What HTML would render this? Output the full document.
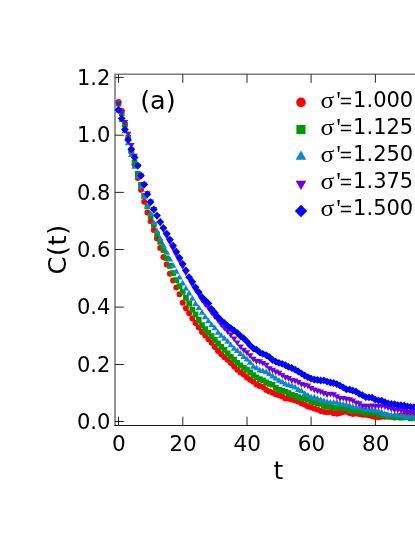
<!DOCTYPE html>
<html lang="en"><head><meta charset="utf-8"><title>C(t) plot</title>
<style>html,body{margin:0;padding:0;background:#fff}svg{display:block}</style></head>
<body>
<svg width="415" height="537" viewBox="0 0 415 537">
<rect width="415" height="537" fill="#fff"/>
<g stroke="#000" fill="none">
<path stroke="#7c7c7c" stroke-width="1.6" d="M115.0 425.3V74.2H415"/>
<path stroke="#1a1a1a" stroke-width="1" d="M114.3 425.5H415"/>
<path stroke="#1a1a1a" stroke-width="0.95" d="M118.5 425.5v-8.8M118.5 74.2v8.6M182.8 425.5v-8.8M182.8 74.2v8.6M247 425.5v-8.8M247 74.2v8.6M311.1 425.5v-8.8M311.1 74.2v8.6M375.4 425.5v-8.8M375.4 74.2v8.6M115.0 421.5h8.8M115.0 364.5h8.8M115.0 307.1h8.8M115.0 249.5h8.8M115.0 192.4h8.8M115.0 135.2h8.8M115.0 77.4h8.8"/>
</g>
<g>
<path fill="#ff0000" d="M115.5 102.1a3 3 0 1 0 6 0a3 3 0 1 0 -6 0zM118.7 110.8a3 3 0 1 0 6 0a3 3 0 1 0 -6 0zM121.9 124.3a3 3 0 1 0 6 0a3 3 0 1 0 -6 0zM125.1 138.4a3 3 0 1 0 6 0a3 3 0 1 0 -6 0zM128.3 151.9a3 3 0 1 0 6 0a3 3 0 1 0 -6 0zM131.6 164.8a3 3 0 1 0 6 0a3 3 0 1 0 -6 0zM134.8 177.9a3 3 0 1 0 6 0a3 3 0 1 0 -6 0zM138 189.7a3 3 0 1 0 6 0a3 3 0 1 0 -6 0zM141.2 201.7a3 3 0 1 0 6 0a3 3 0 1 0 -6 0zM144.4 212.4a3 3 0 1 0 6 0a3 3 0 1 0 -6 0zM147.6 221.2a3 3 0 1 0 6 0a3 3 0 1 0 -6 0zM150.8 230.1a3 3 0 1 0 6 0a3 3 0 1 0 -6 0zM154 238.5a3 3 0 1 0 6 0a3 3 0 1 0 -6 0zM157.2 248a3 3 0 1 0 6 0a3 3 0 1 0 -6 0zM160.4 257a3 3 0 1 0 6 0a3 3 0 1 0 -6 0zM163.7 264.4a3 3 0 1 0 6 0a3 3 0 1 0 -6 0zM166.9 273.7a3 3 0 1 0 6 0a3 3 0 1 0 -6 0zM170.1 280.6a3 3 0 1 0 6 0a3 3 0 1 0 -6 0zM173.3 287.5a3 3 0 1 0 6 0a3 3 0 1 0 -6 0zM176.5 294.2a3 3 0 1 0 6 0a3 3 0 1 0 -6 0zM179.7 302.7a3 3 0 1 0 6 0a3 3 0 1 0 -6 0zM182.9 308.2a3 3 0 1 0 6 0a3 3 0 1 0 -6 0zM186.1 313.3a3 3 0 1 0 6 0a3 3 0 1 0 -6 0zM189.3 318.5a3 3 0 1 0 6 0a3 3 0 1 0 -6 0zM192.5 323.1a3 3 0 1 0 6 0a3 3 0 1 0 -6 0zM195.8 327.5a3 3 0 1 0 6 0a3 3 0 1 0 -6 0zM199 332.1a3 3 0 1 0 6 0a3 3 0 1 0 -6 0zM202.2 335.4a3 3 0 1 0 6 0a3 3 0 1 0 -6 0zM205.4 339.3a3 3 0 1 0 6 0a3 3 0 1 0 -6 0zM208.6 342.8a3 3 0 1 0 6 0a3 3 0 1 0 -6 0zM211.8 347.1a3 3 0 1 0 6 0a3 3 0 1 0 -6 0zM215 351a3 3 0 1 0 6 0a3 3 0 1 0 -6 0zM218.2 354.3a3 3 0 1 0 6 0a3 3 0 1 0 -6 0zM221.4 357.3a3 3 0 1 0 6 0a3 3 0 1 0 -6 0zM224.6 359.8a3 3 0 1 0 6 0a3 3 0 1 0 -6 0zM227.9 363a3 3 0 1 0 6 0a3 3 0 1 0 -6 0zM231.1 366.4a3 3 0 1 0 6 0a3 3 0 1 0 -6 0zM234.3 369.8a3 3 0 1 0 6 0a3 3 0 1 0 -6 0zM237.5 372.6a3 3 0 1 0 6 0a3 3 0 1 0 -6 0zM240.7 374.5a3 3 0 1 0 6 0a3 3 0 1 0 -6 0zM243.9 377.5a3 3 0 1 0 6 0a3 3 0 1 0 -6 0zM247.1 379.7a3 3 0 1 0 6 0a3 3 0 1 0 -6 0zM250.3 381.7a3 3 0 1 0 6 0a3 3 0 1 0 -6 0zM253.5 384.5a3 3 0 1 0 6 0a3 3 0 1 0 -6 0zM256.7 386.1a3 3 0 1 0 6 0a3 3 0 1 0 -6 0zM260 387.1a3 3 0 1 0 6 0a3 3 0 1 0 -6 0zM263.2 389.9a3 3 0 1 0 6 0a3 3 0 1 0 -6 0zM266.4 391.4a3 3 0 1 0 6 0a3 3 0 1 0 -6 0zM269.6 392.7a3 3 0 1 0 6 0a3 3 0 1 0 -6 0zM272.8 394.3a3 3 0 1 0 6 0a3 3 0 1 0 -6 0zM276 395.2a3 3 0 1 0 6 0a3 3 0 1 0 -6 0zM279.2 396.5a3 3 0 1 0 6 0a3 3 0 1 0 -6 0zM282.4 398.4a3 3 0 1 0 6 0a3 3 0 1 0 -6 0zM285.6 398.8a3 3 0 1 0 6 0a3 3 0 1 0 -6 0zM288.8 399.6a3 3 0 1 0 6 0a3 3 0 1 0 -6 0zM292.1 400.6a3 3 0 1 0 6 0a3 3 0 1 0 -6 0zM295.3 401.6a3 3 0 1 0 6 0a3 3 0 1 0 -6 0zM298.5 403.2a3 3 0 1 0 6 0a3 3 0 1 0 -6 0zM301.7 404.7a3 3 0 1 0 6 0a3 3 0 1 0 -6 0zM304.9 406.6a3 3 0 1 0 6 0a3 3 0 1 0 -6 0zM308.1 407.2a3 3 0 1 0 6 0a3 3 0 1 0 -6 0zM311.3 408.5a3 3 0 1 0 6 0a3 3 0 1 0 -6 0zM314.5 409.6a3 3 0 1 0 6 0a3 3 0 1 0 -6 0zM317.7 410.9a3 3 0 1 0 6 0a3 3 0 1 0 -6 0zM320.9 411.8a3 3 0 1 0 6 0a3 3 0 1 0 -6 0zM324.2 412.2a3 3 0 1 0 6 0a3 3 0 1 0 -6 0zM327.4 411.7a3 3 0 1 0 6 0a3 3 0 1 0 -6 0zM330.6 413.2a3 3 0 1 0 6 0a3 3 0 1 0 -6 0zM333.8 413.7a3 3 0 1 0 6 0a3 3 0 1 0 -6 0zM337 412.9a3 3 0 1 0 6 0a3 3 0 1 0 -6 0zM340.2 411.9a3 3 0 1 0 6 0a3 3 0 1 0 -6 0zM343.4 411.8a3 3 0 1 0 6 0a3 3 0 1 0 -6 0zM346.6 413a3 3 0 1 0 6 0a3 3 0 1 0 -6 0zM349.8 414.1a3 3 0 1 0 6 0a3 3 0 1 0 -6 0zM353 413.5a3 3 0 1 0 6 0a3 3 0 1 0 -6 0zM356.3 414a3 3 0 1 0 6 0a3 3 0 1 0 -6 0zM359.5 414.7a3 3 0 1 0 6 0a3 3 0 1 0 -6 0zM362.7 414.7a3 3 0 1 0 6 0a3 3 0 1 0 -6 0zM365.9 415.2a3 3 0 1 0 6 0a3 3 0 1 0 -6 0zM369.1 416.3a3 3 0 1 0 6 0a3 3 0 1 0 -6 0zM372.3 417a3 3 0 1 0 6 0a3 3 0 1 0 -6 0zM375.5 417.3a3 3 0 1 0 6 0a3 3 0 1 0 -6 0zM378.7 416.7a3 3 0 1 0 6 0a3 3 0 1 0 -6 0zM381.9 416.8a3 3 0 1 0 6 0a3 3 0 1 0 -6 0zM385.1 416.8a3 3 0 1 0 6 0a3 3 0 1 0 -6 0zM388.4 416.7a3 3 0 1 0 6 0a3 3 0 1 0 -6 0zM391.6 417.4a3 3 0 1 0 6 0a3 3 0 1 0 -6 0zM394.8 416.2a3 3 0 1 0 6 0a3 3 0 1 0 -6 0zM398 415.6a3 3 0 1 0 6 0a3 3 0 1 0 -6 0zM401.2 415.1a3 3 0 1 0 6 0a3 3 0 1 0 -6 0zM404.4 415.8a3 3 0 1 0 6 0a3 3 0 1 0 -6 0zM407.6 415.2a3 3 0 1 0 6 0a3 3 0 1 0 -6 0zM410.8 414.5a3 3 0 1 0 6 0a3 3 0 1 0 -6 0zM414 415.4a3 3 0 1 0 6 0a3 3 0 1 0 -6 0z"/>
<path fill="#009900" d="M115.7 100.8h5.7v5.7h-5.7zM118.9 110.3h5.7v5.7h-5.7zM122.1 121.8h5.7v5.7h-5.7zM125.3 135h5.7v5.7h-5.7zM128.5 147.6h5.7v5.7h-5.7zM131.7 159.6h5.7v5.7h-5.7zM134.9 171.1h5.7v5.7h-5.7zM138.1 182h5.7v5.7h-5.7zM141.3 192.9h5.7v5.7h-5.7zM144.6 203.5h5.7v5.7h-5.7zM147.8 213.3h5.7v5.7h-5.7zM151 221.9h5.7v5.7h-5.7zM154.2 231.6h5.7v5.7h-5.7zM157.4 239.1h5.7v5.7h-5.7zM160.6 247.4h5.7v5.7h-5.7zM163.8 255.4h5.7v5.7h-5.7zM167 263h5.7v5.7h-5.7zM170.2 270.3h5.7v5.7h-5.7zM173.4 277.2h5.7v5.7h-5.7zM176.7 283.2h5.7v5.7h-5.7zM179.9 289h5.7v5.7h-5.7zM183.1 295.1h5.7v5.7h-5.7zM186.3 300.8h5.7v5.7h-5.7zM189.5 306.8h5.7v5.7h-5.7zM192.7 311.6h5.7v5.7h-5.7zM195.9 317h5.7v5.7h-5.7zM199.1 322.2h5.7v5.7h-5.7zM202.3 326.3h5.7v5.7h-5.7zM205.5 329.7h5.7v5.7h-5.7zM208.8 333.2h5.7v5.7h-5.7zM212 337h5.7v5.7h-5.7zM215.2 340.6h5.7v5.7h-5.7zM218.4 344h5.7v5.7h-5.7zM221.6 347h5.7v5.7h-5.7zM224.8 350.6h5.7v5.7h-5.7zM228 353.9h5.7v5.7h-5.7zM231.2 356.8h5.7v5.7h-5.7zM234.4 360h5.7v5.7h-5.7zM237.6 362.5h5.7v5.7h-5.7zM240.9 365h5.7v5.7h-5.7zM244.1 366.7h5.7v5.7h-5.7zM247.3 369.5h5.7v5.7h-5.7zM250.5 372.3h5.7v5.7h-5.7zM253.7 374.4h5.7v5.7h-5.7zM256.9 376.2h5.7v5.7h-5.7zM260.1 377.5h5.7v5.7h-5.7zM263.3 379.6h5.7v5.7h-5.7zM266.5 381.1h5.7v5.7h-5.7zM269.7 381.9h5.7v5.7h-5.7zM273 385.1h5.7v5.7h-5.7zM276.2 386.9h5.7v5.7h-5.7zM279.4 387.7h5.7v5.7h-5.7zM282.6 388.9h5.7v5.7h-5.7zM285.8 390.3h5.7v5.7h-5.7zM289 392h5.7v5.7h-5.7zM292.2 393h5.7v5.7h-5.7zM295.4 394.3h5.7v5.7h-5.7zM298.6 395.8h5.7v5.7h-5.7zM301.8 395.6h5.7v5.7h-5.7zM305.1 396.9h5.7v5.7h-5.7zM308.3 398.4h5.7v5.7h-5.7zM311.5 399.4h5.7v5.7h-5.7zM314.7 400.4h5.7v5.7h-5.7zM317.9 401.1h5.7v5.7h-5.7zM321.1 403.1h5.7v5.7h-5.7zM324.3 403.5h5.7v5.7h-5.7zM327.5 403.5h5.7v5.7h-5.7zM330.7 404.9h5.7v5.7h-5.7zM333.9 405.3h5.7v5.7h-5.7zM337.2 405.2h5.7v5.7h-5.7zM340.4 405.4h5.7v5.7h-5.7zM343.6 405.4h5.7v5.7h-5.7zM346.8 407.2h5.7v5.7h-5.7zM350 407.7h5.7v5.7h-5.7zM353.2 408.2h5.7v5.7h-5.7zM356.4 408.2h5.7v5.7h-5.7zM359.6 408.2h5.7v5.7h-5.7zM362.8 410.1h5.7v5.7h-5.7zM366 409.2h5.7v5.7h-5.7zM369.3 410h5.7v5.7h-5.7zM372.5 410.1h5.7v5.7h-5.7zM375.7 411.8h5.7v5.7h-5.7zM378.9 412.3h5.7v5.7h-5.7zM382.1 412.3h5.7v5.7h-5.7zM385.3 413.3h5.7v5.7h-5.7zM388.5 413.9h5.7v5.7h-5.7zM391.7 414h5.7v5.7h-5.7zM394.9 414.4h5.7v5.7h-5.7zM398.1 414.9h5.7v5.7h-5.7zM401.4 414.5h5.7v5.7h-5.7zM404.6 414.6h5.7v5.7h-5.7zM407.8 415.5h5.7v5.7h-5.7zM411 414.5h5.7v5.7h-5.7zM414.2 415.9h5.7v5.7h-5.7z"/>
<path fill="#0a86cc" d="M118.5 107.1l3.3 5.7h-6.6zM121.7 116.2l3.3 5.7h-6.6zM124.9 127.4l3.3 5.7h-6.6zM128.1 139.5l3.3 5.7h-6.6zM131.3 151.2l3.3 5.7h-6.6zM134.6 163l3.3 5.7h-6.6zM137.8 173l3.3 5.7h-6.6zM141 183.3l3.3 5.7h-6.6zM144.2 193.1l3.3 5.7h-6.6zM147.4 203.1l3.3 5.7h-6.6zM150.6 210.3l3.3 5.7h-6.6zM153.8 219.2l3.3 5.7h-6.6zM157 227.8l3.3 5.7h-6.6zM160.2 235l3.3 5.7h-6.6zM163.4 242.1l3.3 5.7h-6.6zM166.7 249l3.3 5.7h-6.6zM169.9 255.7l3.3 5.7h-6.6zM173.1 262l3.3 5.7h-6.6zM176.3 268.1l3.3 5.7h-6.6zM179.5 273.9l3.3 5.7h-6.6zM182.7 279.7l3.3 5.7h-6.6zM185.9 284.9l3.3 5.7h-6.6zM189.1 289.9l3.3 5.7h-6.6zM192.3 295l3.3 5.7h-6.6zM195.5 300.3l3.3 5.7h-6.6zM198.8 304.4l3.3 5.7h-6.6zM202 309l3.3 5.7h-6.6zM205.2 313.6l3.3 5.7h-6.6zM208.4 317.5l3.3 5.7h-6.6zM211.6 321.3l3.3 5.7h-6.6zM214.8 324.5l3.3 5.7h-6.6zM218 329.1l3.3 5.7h-6.6zM221.2 332.1l3.3 5.7h-6.6zM224.4 335l3.3 5.7h-6.6zM227.6 338l3.3 5.7h-6.6zM230.8 341.6l3.3 5.7h-6.6zM234.1 345l3.3 5.7h-6.6zM237.3 347.2l3.3 5.7h-6.6zM240.5 350.2l3.3 5.7h-6.6zM243.7 353.3l3.3 5.7h-6.6zM246.9 355.7l3.3 5.7h-6.6zM250.1 359l3.3 5.7h-6.6zM253.3 363l3.3 5.7h-6.6zM256.5 364.6l3.3 5.7h-6.6zM259.7 366.8l3.3 5.7h-6.6zM262.9 367.4l3.3 5.7h-6.6zM266.2 368.6l3.3 5.7h-6.6zM269.4 370.5l3.3 5.7h-6.6zM272.6 372.8l3.3 5.7h-6.6zM275.8 374.7l3.3 5.7h-6.6zM279 377l3.3 5.7h-6.6zM282.2 378.5l3.3 5.7h-6.6zM285.4 380.5l3.3 5.7h-6.6zM288.6 381.5l3.3 5.7h-6.6zM291.8 382.4l3.3 5.7h-6.6zM295.1 383.7l3.3 5.7h-6.6zM298.3 386.2l3.3 5.7h-6.6zM301.5 387.5l3.3 5.7h-6.6zM304.7 390.2l3.3 5.7h-6.6zM307.9 391.9l3.3 5.7h-6.6zM311.1 393.7l3.3 5.7h-6.6zM314.3 393.7l3.3 5.7h-6.6zM317.5 395.3l3.3 5.7h-6.6zM320.7 396.3l3.3 5.7h-6.6zM323.9 397.5l3.3 5.7h-6.6zM327.1 398.3l3.3 5.7h-6.6zM330.4 398.9l3.3 5.7h-6.6zM333.6 399l3.3 5.7h-6.6zM336.8 399l3.3 5.7h-6.6zM340 400.2l3.3 5.7h-6.6zM343.2 401l3.3 5.7h-6.6zM346.4 401.3l3.3 5.7h-6.6zM349.6 402.3l3.3 5.7h-6.6zM352.8 403.5l3.3 5.7h-6.6zM356 404.1l3.3 5.7h-6.6zM359.2 403.8l3.3 5.7h-6.6zM362.5 405.2l3.3 5.7h-6.6zM365.7 405.8l3.3 5.7h-6.6zM368.9 405.8l3.3 5.7h-6.6zM372.1 406.2l3.3 5.7h-6.6zM375.3 407.1l3.3 5.7h-6.6zM378.5 407.8l3.3 5.7h-6.6zM381.7 408.7l3.3 5.7h-6.6zM384.9 410.2l3.3 5.7h-6.6zM388.1 411.5l3.3 5.7h-6.6zM391.4 411.8l3.3 5.7h-6.6zM394.6 411.3l3.3 5.7h-6.6zM397.8 411.9l3.3 5.7h-6.6zM401 412.5l3.3 5.7h-6.6zM404.2 412.9l3.3 5.7h-6.6zM407.4 413.6l3.3 5.7h-6.6zM410.6 413.4l3.3 5.7h-6.6zM413.8 413.9l3.3 5.7h-6.6zM417 413.4l3.3 5.7h-6.6z"/>
<path fill="#7000e3" d="M118.5 107.5l3.3 -5.7h-6.6zM121.7 115.8l3.3 -5.7h-6.6zM124.9 125.8l3.3 -5.7h-6.6zM128.1 137.4l3.3 -5.7h-6.6zM131.3 148.6l3.3 -5.7h-6.6zM134.6 159.4l3.3 -5.7h-6.6zM137.8 169.7l3.3 -5.7h-6.6zM141 179.2l3.3 -5.7h-6.6zM144.2 188.3l3.3 -5.7h-6.6zM147.4 196.9l3.3 -5.7h-6.6zM150.6 205.2l3.3 -5.7h-6.6zM153.8 212.7l3.3 -5.7h-6.6zM157 219.8l3.3 -5.7h-6.6zM160.2 226.7l3.3 -5.7h-6.6zM163.4 233.3l3.3 -5.7h-6.6zM166.7 239.6l3.3 -5.7h-6.6zM169.9 245.7l3.3 -5.7h-6.6zM173.1 252.1l3.3 -5.7h-6.6zM176.3 258.3l3.3 -5.7h-6.6zM179.5 264.2l3.3 -5.7h-6.6zM182.7 270l3.3 -5.7h-6.6zM185.9 276.2l3.3 -5.7h-6.6zM189.1 281.8l3.3 -5.7h-6.6zM192.3 288l3.3 -5.7h-6.6zM195.5 293.3l3.3 -5.7h-6.6zM198.8 297.7l3.3 -5.7h-6.6zM202 303.5l3.3 -5.7h-6.6zM205.2 307.8l3.3 -5.7h-6.6zM208.4 311.3l3.3 -5.7h-6.6zM211.6 316l3.3 -5.7h-6.6zM214.8 319.9l3.3 -5.7h-6.6zM218 323.6l3.3 -5.7h-6.6zM221.2 328.1l3.3 -5.7h-6.6zM224.4 331.6l3.3 -5.7h-6.6zM227.6 334.9l3.3 -5.7h-6.6zM230.8 338.3l3.3 -5.7h-6.6zM234.1 342.3l3.3 -5.7h-6.6zM237.3 346.1l3.3 -5.7h-6.6zM240.5 350.1l3.3 -5.7h-6.6zM243.7 353.4l3.3 -5.7h-6.6zM246.9 356l3.3 -5.7h-6.6zM250.1 359l3.3 -5.7h-6.6zM253.3 362.4l3.3 -5.7h-6.6zM256.5 364.7l3.3 -5.7h-6.6zM259.7 365l3.3 -5.7h-6.6zM262.9 366.6l3.3 -5.7h-6.6zM266.2 368.5l3.3 -5.7h-6.6zM269.4 371.9l3.3 -5.7h-6.6zM272.6 373.4l3.3 -5.7h-6.6zM275.8 375.2l3.3 -5.7h-6.6zM279 376.5l3.3 -5.7h-6.6zM282.2 378.6l3.3 -5.7h-6.6zM285.4 380.8l3.3 -5.7h-6.6zM288.6 381.7l3.3 -5.7h-6.6zM291.8 383.8l3.3 -5.7h-6.6zM295.1 384.3l3.3 -5.7h-6.6zM298.3 385.8l3.3 -5.7h-6.6zM301.5 387.7l3.3 -5.7h-6.6zM304.7 388.4l3.3 -5.7h-6.6zM307.9 389.2l3.3 -5.7h-6.6zM311.1 391.7l3.3 -5.7h-6.6zM314.3 393.3l3.3 -5.7h-6.6zM317.5 394.2l3.3 -5.7h-6.6zM320.7 395.3l3.3 -5.7h-6.6zM323.9 396.7l3.3 -5.7h-6.6zM327.1 398l3.3 -5.7h-6.6zM330.4 397.4l3.3 -5.7h-6.6zM333.6 398l3.3 -5.7h-6.6zM336.8 400l3.3 -5.7h-6.6zM340 401.7l3.3 -5.7h-6.6zM343.2 401.6l3.3 -5.7h-6.6zM346.4 402.4l3.3 -5.7h-6.6zM349.6 402.9l3.3 -5.7h-6.6zM352.8 404.1l3.3 -5.7h-6.6zM356 406.1l3.3 -5.7h-6.6zM359.2 407l3.3 -5.7h-6.6zM362.5 409.1l3.3 -5.7h-6.6zM365.7 409.5l3.3 -5.7h-6.6zM368.9 409.4l3.3 -5.7h-6.6zM372.1 409.1l3.3 -5.7h-6.6zM375.3 409.6l3.3 -5.7h-6.6zM378.5 409.6l3.3 -5.7h-6.6zM381.7 409.4l3.3 -5.7h-6.6zM384.9 410l3.3 -5.7h-6.6zM388.1 411.1l3.3 -5.7h-6.6zM391.4 412.3l3.3 -5.7h-6.6zM394.6 413.3l3.3 -5.7h-6.6zM397.8 413.2l3.3 -5.7h-6.6zM401 413.7l3.3 -5.7h-6.6zM404.2 414.7l3.3 -5.7h-6.6zM407.4 415.4l3.3 -5.7h-6.6zM410.6 415.7l3.3 -5.7h-6.6zM413.8 416.1l3.3 -5.7h-6.6zM417 416.3l3.3 -5.7h-6.6z"/>
<path fill="#0000ff" d="M118.5 105.9l3.9 3.9l-3.9 3.9l-3.9 -3.9zM121.7 114.5l3.9 3.9l-3.9 3.9l-3.9 -3.9zM124.9 125.6l3.9 3.9l-3.9 3.9l-3.9 -3.9zM128.1 136l3.9 3.9l-3.9 3.9l-3.9 -3.9zM131.3 145.4l3.9 3.9l-3.9 3.9l-3.9 -3.9zM134.6 153.5l3.9 3.9l-3.9 3.9l-3.9 -3.9zM137.8 161.8l3.9 3.9l-3.9 3.9l-3.9 -3.9zM141 171.8l3.9 3.9l-3.9 3.9l-3.9 -3.9zM144.2 180.7l3.9 3.9l-3.9 3.9l-3.9 -3.9zM147.4 190.4l3.9 3.9l-3.9 3.9l-3.9 -3.9zM150.6 198.2l3.9 3.9l-3.9 3.9l-3.9 -3.9zM153.8 205.6l3.9 3.9l-3.9 3.9l-3.9 -3.9zM157 211.7l3.9 3.9l-3.9 3.9l-3.9 -3.9zM160.2 218l3.9 3.9l-3.9 3.9l-3.9 -3.9zM163.4 224l3.9 3.9l-3.9 3.9l-3.9 -3.9zM166.7 229.7l3.9 3.9l-3.9 3.9l-3.9 -3.9zM169.9 235.7l3.9 3.9l-3.9 3.9l-3.9 -3.9zM173.1 241.8l3.9 3.9l-3.9 3.9l-3.9 -3.9zM176.3 247.8l3.9 3.9l-3.9 3.9l-3.9 -3.9zM179.5 253.9l3.9 3.9l-3.9 3.9l-3.9 -3.9zM182.7 260l3.9 3.9l-3.9 3.9l-3.9 -3.9zM185.9 266.5l3.9 3.9l-3.9 3.9l-3.9 -3.9zM189.1 273.3l3.9 3.9l-3.9 3.9l-3.9 -3.9zM192.3 277.8l3.9 3.9l-3.9 3.9l-3.9 -3.9zM195.5 283.4l3.9 3.9l-3.9 3.9l-3.9 -3.9zM198.8 288.3l3.9 3.9l-3.9 3.9l-3.9 -3.9zM202 293.3l3.9 3.9l-3.9 3.9l-3.9 -3.9zM205.2 296.4l3.9 3.9l-3.9 3.9l-3.9 -3.9zM208.4 299.5l3.9 3.9l-3.9 3.9l-3.9 -3.9zM211.6 305.2l3.9 3.9l-3.9 3.9l-3.9 -3.9zM214.8 308.8l3.9 3.9l-3.9 3.9l-3.9 -3.9zM218 313.2l3.9 3.9l-3.9 3.9l-3.9 -3.9zM221.2 316.6l3.9 3.9l-3.9 3.9l-3.9 -3.9zM224.4 319.1l3.9 3.9l-3.9 3.9l-3.9 -3.9zM227.6 322.1l3.9 3.9l-3.9 3.9l-3.9 -3.9zM230.8 324.2l3.9 3.9l-3.9 3.9l-3.9 -3.9zM234.1 326.7l3.9 3.9l-3.9 3.9l-3.9 -3.9zM237.3 328.9l3.9 3.9l-3.9 3.9l-3.9 -3.9zM240.5 332.1l3.9 3.9l-3.9 3.9l-3.9 -3.9zM243.7 334.4l3.9 3.9l-3.9 3.9l-3.9 -3.9zM246.9 337.7l3.9 3.9l-3.9 3.9l-3.9 -3.9zM250.1 341.4l3.9 3.9l-3.9 3.9l-3.9 -3.9zM253.3 344.4l3.9 3.9l-3.9 3.9l-3.9 -3.9zM256.5 345.7l3.9 3.9l-3.9 3.9l-3.9 -3.9zM259.7 348.5l3.9 3.9l-3.9 3.9l-3.9 -3.9zM262.9 349.9l3.9 3.9l-3.9 3.9l-3.9 -3.9zM266.2 351.2l3.9 3.9l-3.9 3.9l-3.9 -3.9zM269.4 353.2l3.9 3.9l-3.9 3.9l-3.9 -3.9zM272.6 356.1l3.9 3.9l-3.9 3.9l-3.9 -3.9zM275.8 357.8l3.9 3.9l-3.9 3.9l-3.9 -3.9zM279 359l3.9 3.9l-3.9 3.9l-3.9 -3.9zM282.2 359.9l3.9 3.9l-3.9 3.9l-3.9 -3.9zM285.4 361.2l3.9 3.9l-3.9 3.9l-3.9 -3.9zM288.6 363l3.9 3.9l-3.9 3.9l-3.9 -3.9zM291.8 364.1l3.9 3.9l-3.9 3.9l-3.9 -3.9zM295.1 365.8l3.9 3.9l-3.9 3.9l-3.9 -3.9zM298.3 367.6l3.9 3.9l-3.9 3.9l-3.9 -3.9zM301.5 369.5l3.9 3.9l-3.9 3.9l-3.9 -3.9zM304.7 371.6l3.9 3.9l-3.9 3.9l-3.9 -3.9zM307.9 373.2l3.9 3.9l-3.9 3.9l-3.9 -3.9zM311.1 374.8l3.9 3.9l-3.9 3.9l-3.9 -3.9zM314.3 375.6l3.9 3.9l-3.9 3.9l-3.9 -3.9zM317.5 376l3.9 3.9l-3.9 3.9l-3.9 -3.9zM320.7 376.6l3.9 3.9l-3.9 3.9l-3.9 -3.9zM323.9 376.4l3.9 3.9l-3.9 3.9l-3.9 -3.9zM327.1 377.7l3.9 3.9l-3.9 3.9l-3.9 -3.9zM330.4 378.6l3.9 3.9l-3.9 3.9l-3.9 -3.9zM333.6 379.1l3.9 3.9l-3.9 3.9l-3.9 -3.9zM336.8 380.2l3.9 3.9l-3.9 3.9l-3.9 -3.9zM340 381.8l3.9 3.9l-3.9 3.9l-3.9 -3.9zM343.2 383.4l3.9 3.9l-3.9 3.9l-3.9 -3.9zM346.4 385.5l3.9 3.9l-3.9 3.9l-3.9 -3.9zM349.6 385.5l3.9 3.9l-3.9 3.9l-3.9 -3.9zM352.8 386.7l3.9 3.9l-3.9 3.9l-3.9 -3.9zM356 387.7l3.9 3.9l-3.9 3.9l-3.9 -3.9zM359.2 389.9l3.9 3.9l-3.9 3.9l-3.9 -3.9zM362.5 391.3l3.9 3.9l-3.9 3.9l-3.9 -3.9zM365.7 393.2l3.9 3.9l-3.9 3.9l-3.9 -3.9zM368.9 393.4l3.9 3.9l-3.9 3.9l-3.9 -3.9zM372.1 393.8l3.9 3.9l-3.9 3.9l-3.9 -3.9zM375.3 395.8l3.9 3.9l-3.9 3.9l-3.9 -3.9zM378.5 396.4l3.9 3.9l-3.9 3.9l-3.9 -3.9zM381.7 396.7l3.9 3.9l-3.9 3.9l-3.9 -3.9zM384.9 398.3l3.9 3.9l-3.9 3.9l-3.9 -3.9zM388.1 399.4l3.9 3.9l-3.9 3.9l-3.9 -3.9zM391.4 400l3.9 3.9l-3.9 3.9l-3.9 -3.9zM394.6 400.3l3.9 3.9l-3.9 3.9l-3.9 -3.9zM397.8 401.2l3.9 3.9l-3.9 3.9l-3.9 -3.9zM401 401.3l3.9 3.9l-3.9 3.9l-3.9 -3.9zM404.2 401.7l3.9 3.9l-3.9 3.9l-3.9 -3.9zM407.4 402.4l3.9 3.9l-3.9 3.9l-3.9 -3.9zM410.6 403.1l3.9 3.9l-3.9 3.9l-3.9 -3.9zM413.8 403.3l3.9 3.9l-3.9 3.9l-3.9 -3.9zM417 403.8l3.9 3.9l-3.9 3.9l-3.9 -3.9z"/>
</g>
<g font-family="DejaVu Sans, Liberation Sans, sans-serif" font-size="21" fill="#000">
<text x="110.4" y="428.7" text-anchor="end">0.0</text>
<text x="110.4" y="371.7" text-anchor="end">0.2</text>
<text x="110.4" y="314.3" text-anchor="end">0.4</text>
<text x="110.4" y="256.7" text-anchor="end">0.6</text>
<text x="110.4" y="199.6" text-anchor="end">0.8</text>
<text x="110.4" y="142.4" text-anchor="end">1.0</text>
<text x="110.4" y="84.6" text-anchor="end">1.2</text>
<text x="118.9" y="450.6" text-anchor="middle" font-size="21.6">0</text>
<text x="183.1" y="450.6" text-anchor="middle" font-size="21.6">20</text>
<text x="247.3" y="450.6" text-anchor="middle" font-size="21.6">40</text>
<text x="311.5" y="450.6" text-anchor="middle" font-size="21.6">60</text>
<text x="375.7" y="450.6" text-anchor="middle" font-size="21.6">80</text>
<text x="278.5" y="479.2" text-anchor="middle" font-size="25">t</text>
<text transform="translate(65.5 249.3) rotate(-90)" text-anchor="middle" font-size="25.5" letter-spacing="0.7">C(t)</text>
<text x="157.9" y="109.2" text-anchor="middle" font-size="25.5">(a)</text>
<path fill="#ff0000" d="M296.2 102.4a4.8 4.8 0 1 0 9.6 0a4.8 4.8 0 1 0 -9.6 0z"/>
<text y="106.9"><tspan x="320.6" dy="0.6" font-family="Liberation Serif, DejaVu Serif, serif" font-size="22.5" textLength="13.7" lengthAdjust="spacingAndGlyphs">σ</tspan><tspan x="338.6" dy="1.2" text-anchor="middle" font-family="Liberation Serif, DejaVu Serif, serif" font-size="26">'</tspan><tspan x="346.0" dy="-0.9" text-anchor="middle" font-family="Liberation Sans, sans-serif">=</tspan><tspan x="353.1" dy="-0.9">1.000</tspan></text>
<path fill="#009900" d="M296.4 125h9.1v9.1h-9.1z"/>
<text y="134"><tspan x="320.6" dy="0.6" font-family="Liberation Serif, DejaVu Serif, serif" font-size="22.5" textLength="13.7" lengthAdjust="spacingAndGlyphs">σ</tspan><tspan x="338.6" dy="1.2" text-anchor="middle" font-family="Liberation Serif, DejaVu Serif, serif" font-size="26">'</tspan><tspan x="346.0" dy="-0.9" text-anchor="middle" font-family="Liberation Sans, sans-serif">=</tspan><tspan x="353.1" dy="-0.9">1.125</tspan></text>
<path fill="#0a86cc" d="M301 150.6l5.3 9.1h-10.7z"/>
<text y="161.1"><tspan x="320.6" dy="0.6" font-family="Liberation Serif, DejaVu Serif, serif" font-size="22.5" textLength="13.7" lengthAdjust="spacingAndGlyphs">σ</tspan><tspan x="338.6" dy="1.2" text-anchor="middle" font-family="Liberation Serif, DejaVu Serif, serif" font-size="26">'</tspan><tspan x="346.0" dy="-0.9" text-anchor="middle" font-family="Liberation Sans, sans-serif">=</tspan><tspan x="353.1" dy="-0.9">1.250</tspan></text>
<path fill="#7000e3" d="M301 189.9l5.3 -9.1h-10.7z"/>
<text y="188.2"><tspan x="320.6" dy="0.6" font-family="Liberation Serif, DejaVu Serif, serif" font-size="22.5" textLength="13.7" lengthAdjust="spacingAndGlyphs">σ</tspan><tspan x="338.6" dy="1.2" text-anchor="middle" font-family="Liberation Serif, DejaVu Serif, serif" font-size="26">'</tspan><tspan x="346.0" dy="-0.9" text-anchor="middle" font-family="Liberation Sans, sans-serif">=</tspan><tspan x="353.1" dy="-0.9">1.375</tspan></text>
<path fill="#0000ff" d="M301 204.8l6.2 6.2l-6.2 6.2l-6.2 -6.2z"/>
<text y="215.3"><tspan x="320.6" dy="0.6" font-family="Liberation Serif, DejaVu Serif, serif" font-size="22.5" textLength="13.7" lengthAdjust="spacingAndGlyphs">σ</tspan><tspan x="338.6" dy="1.2" text-anchor="middle" font-family="Liberation Serif, DejaVu Serif, serif" font-size="26">'</tspan><tspan x="346.0" dy="-0.9" text-anchor="middle" font-family="Liberation Sans, sans-serif">=</tspan><tspan x="353.1" dy="-0.9">1.500</tspan></text>
</g>
</svg>
</body></html>
